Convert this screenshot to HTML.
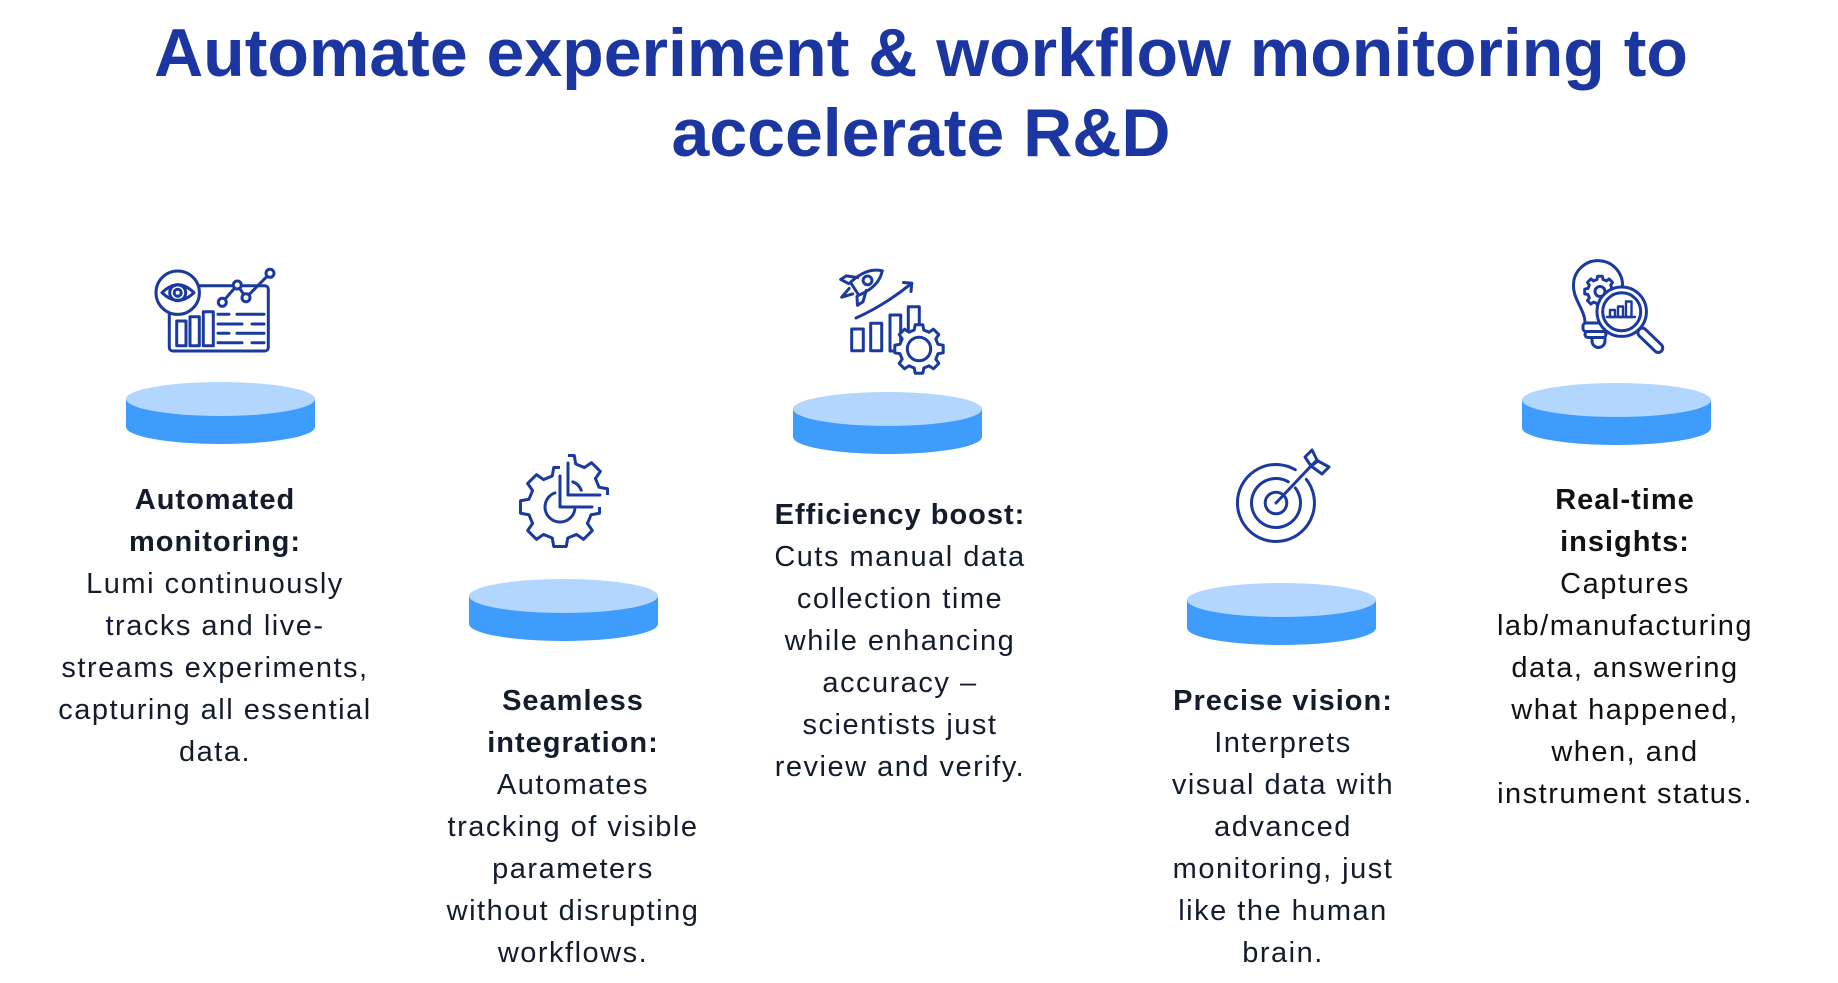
<!DOCTYPE html>
<html>
<head>
<meta charset="utf-8">
<style>
  html, body { margin:0; padding:0; width:1838px; height:983px; overflow:hidden; background:#ffffff; }
  body { position:relative; font-family:"Liberation Sans", Arial, sans-serif; }
  .title {
    position:absolute; left:-5px; top:13px; width:1852px;
    text-align:center; font-weight:bold; font-size:68px; line-height:80px;
    color:#1b36a0; white-space:nowrap;
  }
  .col {
    position:absolute; width:420px; text-align:center;
    font-size:29px; line-height:42px; letter-spacing:1.5px;
    color:#141c2c; white-space:nowrap;
  }
  .col b { font-weight:bold; letter-spacing:1px; }
  svg.art { position:absolute; left:0; top:0; }
</style>
</head>
<body>

<svg class="art" width="1838" height="983" viewBox="0 0 1838 983" xmlns="http://www.w3.org/2000/svg">
  <defs>
    <path id="gear" d="M7.76,-1.94 L9.88,-1.56 L9.88,1.56 L7.76,1.94 L6.86,4.12 L8.09,5.88 L5.88,8.09 L4.12,6.86 L1.94,7.76 L1.56,9.88 L-1.56,9.88 L-1.94,7.76 L-4.12,6.86 L-5.88,8.09 L-8.09,5.88 L-6.86,4.12 L-7.76,1.94 L-9.88,1.56 L-9.88,-1.56 L-7.76,-1.94 L-6.86,-4.12 L-8.09,-5.88 L-5.88,-8.09 L-4.12,-6.86 L-1.94,-7.76 L-1.56,-9.88 L1.56,-9.88 L1.94,-7.76 L4.12,-6.86 L5.88,-8.09 L8.09,-5.88 L6.86,-4.12 Z"/>
    <g id="disc">
      <path d="M0,17 L0,45 A94.5,17 0 0 0 189,45 L189,17 Z" fill="#3e9cfd"/>
      <ellipse cx="94.5" cy="17" rx="94.5" ry="17" fill="#b2d6fd"/>
    </g>
    <clipPath id="mainGearClip">
      <path d="M500,507 L620,507 L620,560 L500,560 Z M500,440 L560,440 L560,507 L500,507 Z"/>
    </clipPath>
    <clipPath id="quarterClip">
      <path d="M568,440 L620,440 L620,495 L568,495 Z"/>
    </clipPath>
  </defs>

  <!-- Discs -->
  <use href="#disc" x="126" y="382"/>
  <use href="#disc" x="469" y="579"/>
  <use href="#disc" x="793" y="392"/>
  <use href="#disc" x="1187" y="583"/>
  <use href="#disc" x="1522" y="383"/>

  <g fill="none" stroke="#1b3a9e" stroke-width="3" stroke-linecap="round" stroke-linejoin="round">
    <!-- Icon 1: dashboard with eye -->
    <rect x="169.3" y="285.7" width="99" height="65.3" rx="3.5"/>
    <rect x="176.7" y="321" width="9.3" height="24.7"/>
    <rect x="190" y="316.7" width="9.3" height="29"/>
    <rect x="203.3" y="311.7" width="10" height="34"/>
    <path d="M218,314.3 L229,314.3 M237,314.3 L264,314.3 M218,324 L242,324 M252,324 L264,324 M218,333.3 L229,333.3 M237,333.3 L264,333.3 M218,342.7 L242,342.7 M252,342.7 L264,342.7"/>
    <polyline points="222.3,302.3 237.3,285 246,297.7 270,273.3"/>
    <circle cx="222.3" cy="302.3" r="4" fill="#fff"/>
    <circle cx="237.3" cy="285" r="4" fill="#fff"/>
    <circle cx="246" cy="297.7" r="4" fill="#fff"/>
    <circle cx="270" cy="273.3" r="4" fill="#fff"/>
    <circle cx="177.7" cy="292.7" r="21.7" fill="#fff"/>
    <path d="M162,292.7 Q178,277 194,292.7 Q178,308 162,292.7 Z"/>
    <circle cx="177.7" cy="292.7" r="8"/>
    <circle cx="177.7" cy="292.7" r="3.5"/>

    <!-- Icon 2: split gear -->
    <g clip-path="url(#mainGearClip)">
      <use href="#gear" transform="translate(560,507) scale(4)" stroke-width="0.75"/>
    </g>
    <path d="M560,476 L560,507 L592,507"/>
    <path d="M574.8,509.6 A15,15 0 1 1 554.9,492.9"/>
    <g clip-path="url(#quarterClip)">
      <use href="#gear" transform="translate(568,495) scale(4)" stroke-width="0.75"/>
    </g>
    <path d="M568,463 L568,495 L600,495"/>
    <path d="M572.8,481.8 A14,14 0 0 1 581.2,490.2"/>

    <!-- Icon 3: rocket, bars, gear -->
    <rect x="851.7" y="329" width="11.6" height="21.7"/>
    <rect x="870.7" y="323.3" width="11" height="27.4"/>
    <rect x="890" y="315" width="10.7" height="36"/>
    <rect x="908.3" y="306.7" width="11" height="44"/>
    <use href="#gear" transform="translate(919,349) scale(2.45)" fill="#fff" stroke-width="1.22"/>
    <circle cx="919" cy="349" r="11.7"/>
    <path d="M856,318 Q885,305 911.7,283.3"/>
    <path d="M903.5,282.5 L911.7,283.3 L911,291.5"/>
    <g transform="translate(862,284) rotate(57) scale(1.1)" stroke-width="2.7">
      <path d="M0,-22 C8,-14 9,-4 7,8 L-7,8 C-9,-4 -8,-14 0,-22 Z" fill="#fff"/>
      <circle cx="0" cy="-6" r="4"/>
      <path d="M-7,0 L-14,8 L-14,14 L-7,10"/>
      <path d="M7,0 L14,8 L14,14 L7,10"/>
      <path d="M-3,12 L0,22 L3,12"/>
    </g>

    <!-- Icon 4: target -->
    <path d="M1306.3,479.3 A38.5,38.5 0 1 1 1295.3,469.7"/>
    <path d="M1295.3,487.9 A24.5,24.5 0 1 1 1288.3,481.8"/>
    <circle cx="1276" cy="503" r="10.8"/>
    <path d="M1276,503 L1311,466"/>
    <path d="M1311,466 L1305,457 L1312,450 L1317,460 Z"/>
    <path d="M1311,466 L1322,474 L1329,467 L1318,461 Z"/>

    <!-- Icon 5: bulb + magnifier -->
    <path d="M1585,323 C1585,310 1573.5,300 1573.5,286 A24.5,24.5 0 1 1 1622,290"/>
    <rect x="1583" y="323" width="25" height="8.5" rx="3"/>
    <rect x="1585" y="331.5" width="21" height="6" rx="3"/>
    <path d="M1592,337.5 L1592,341 A6.5,6.5 0 0 0 1605,341 L1605,337.5"/>
    <use href="#gear" transform="translate(1600,291.5) scale(1.55)" fill="#fff" stroke-width="1.9"/>
    <circle cx="1600" cy="291.5" r="5"/>
    <g transform="translate(1650.3,340.3) rotate(44)">
      <rect x="-15.5" y="-4.5" width="31" height="9" rx="4.5" fill="#fff"/>
    </g>
    <circle cx="1621.7" cy="311.7" r="24.7" fill="#fff"/>
    <circle cx="1621.7" cy="311.7" r="19"/>
    <g stroke-width="2.4">
      <rect x="1610" y="310" width="5" height="7"/>
      <rect x="1618" y="306.5" width="5" height="10.5"/>
      <rect x="1626" y="301.5" width="5.5" height="15.5"/>
      <path d="M1607,317 L1635,317"/>
    </g>
  </g>
</svg>

<div class="title">Automate experiment &amp; workflow monitoring to<br>accelerate R&amp;D</div>

<div class="col" style="left:5px; top:479px;">
  <div><b>Automated</b></div>
  <div><b>monitoring:</b></div>
  <div>Lumi continuously</div>
  <div>tracks and live-</div>
  <div>streams experiments,</div>
  <div>capturing all essential</div>
  <div>data.</div>
</div>

<div class="col" style="left:363px; top:680px;">
  <div><b>Seamless</b></div>
  <div><b>integration:</b></div>
  <div>Automates</div>
  <div>tracking of visible</div>
  <div>parameters</div>
  <div>without disrupting</div>
  <div>workflows.</div>
</div>

<div class="col" style="left:690px; top:494px;">
  <div><b>Efficiency boost:</b></div>
  <div>Cuts manual data</div>
  <div>collection time</div>
  <div>while enhancing</div>
  <div>accuracy –</div>
  <div>scientists just</div>
  <div>review and verify.</div>
</div>

<div class="col" style="left:1073px; top:680px;">
  <div><b>Precise vision:</b></div>
  <div>Interprets</div>
  <div>visual data with</div>
  <div>advanced</div>
  <div>monitoring, just</div>
  <div>like the human</div>
  <div>brain.</div>
</div>

<div class="col" style="left:1415px; top:479px; color:#111111;">
  <div><b>Real-time</b></div>
  <div><b>insights:</b></div>
  <div>Captures</div>
  <div>lab/manufacturing</div>
  <div>data, answering</div>
  <div>what happened,</div>
  <div>when, and</div>
  <div>instrument status.</div>
</div>

</body>
</html>
